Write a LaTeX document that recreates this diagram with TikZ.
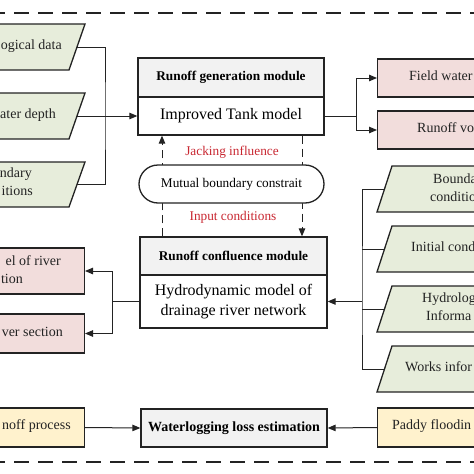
\documentclass[tikz,border=0pt]{standalone}
\usepackage{fontspec}
\setmainfont{Liberation Serif}
\usetikzlibrary{arrows.meta}
\definecolor{greenfill}{RGB}{231,237,219}
\definecolor{redfill}{RGB}{242,221,220}
\definecolor{yelfill}{RGB}{255,242,205}
\definecolor{hdrfill}{RGB}{242,242,242}
\definecolor{redtxt}{RGB}{200,38,48}
\definecolor{ink}{RGB}{35,35,35}
\tikzset{
  boxline/.style={draw=ink, line width=1.3pt},
  hdrbox/.style={boxline, fill=hdrfill, inner sep=0pt, font=\fontsize{13.3}{16}\selectfont\bfseries},
  bodybox/.style={boxline, fill=white, inner sep=0pt, align=center, font=\fontsize{16}{20}\selectfont},
  redbox/.style={boxline, fill=redfill, inner sep=0pt},
  yelbox/.style={boxline, fill=yelfill, inner sep=0pt},
  greenpoly/.style={boxline, fill=greenfill},
  pill/.style={boxline, fill=white, rounded corners=19pt, inner sep=0pt, font=\fontsize{13.3}{16}\selectfont},
  frag/.style={inner sep=0pt, font=\fontsize{14}{18}\selectfont, text=ink},
  redlbl/.style={inner sep=0pt, text=redtxt, font=\fontsize{13.3}{16}\selectfont},
  conn/.style={draw=ink, line width=1pt},
  arr/.style={conn, -{Triangle[length=8pt,width=6.5pt]}},
  darr/.style={arr, dash pattern=on 8pt off 5pt},
  frameline/.style={draw=ink, line width=2.2pt, dash pattern=on 15pt off 9pt, dash phase=10pt}
}
\begin{document}
\begin{tikzpicture}[x=1pt,y=-1pt]
\useasboundingbox (0,0) rectangle (474,474);
\clip (0,0) rectangle (474,474);

% frame
\coordinate (fa) at (0,13); \coordinate (fb) at (474,13);
\coordinate (fc) at (0,462); \coordinate (fd) at (474,462);
\draw[frameline] (fa) -- (fb);
\draw[frameline] (fc) -- (fd);

% left green inputs
\draw[greenpoly] (-40,24) -- (85,24) -- (69,70) -- (-56,70) -- cycle;
\draw[greenpoly] (-40,93) -- (85,93) -- (69,139) -- (-56,139) -- cycle;
\draw[greenpoly] (-40,162) -- (85,162) -- (69,207) -- (-56,207) -- cycle;
\coordinate (gL1) at (77,47);
\coordinate (gL2) at (77,116);
\coordinate (gL3) at (77,184.5);
\node[frag, anchor=mid east] (tL1) at (62,47) {ogical data};
\node[frag, anchor=mid east] (tL2) at (56,116) {ater depth};
\node[frag, anchor=mid east] (tL3a) at (32,175) {ndary};
\node[frag, anchor=mid east] (tL3b) at (33,193) {itions};

% top module
\node[hdrbox, minimum width=186pt, minimum height=39pt] (thdr) at (231,77.5) {Runoff generation module};
\node[bodybox, minimum width=186pt, minimum height=38pt] (tbody) at (231,116) {Improved Tank model};

% right red outputs
\node[redbox, minimum width=140pt, minimum height=38pt, anchor=west] (rr1) at (377,78) {};
\node[redbox, minimum width=140pt, minimum height=38pt, anchor=west] (rr2) at (377,130) {};
\node[frag, anchor=mid west] (tR1) at (409,78) {Field water};
\node[frag, anchor=mid west] (tR2) at (417,130) {Runoff vo};

% dashed links and pill
\coordinate (up) at (162,0);
\coordinate (dn) at (302,0);
\node[hdrbox, minimum width=187pt, minimum height=38pt] (lhdr) at (233.5,256) {Runoff confluence module};
\node[bodybox, minimum width=187pt, minimum height=53pt] (lbody) at (233.5,301.5) {Hydrodynamic model of\\drainage river network};
\draw[darr] (lhdr.north -| up) -- (tbody.south -| up);
\draw[darr] (tbody.south -| dn) -- (lhdr.north -| dn);
\node[pill, minimum width=185pt, minimum height=38pt] (mbc) at (231.5,184) {Mutual boundary constrait};
\node[redlbl] (jack) at (232,152) {Jacking influence};
\node[redlbl] (inp) at (233,217) {Input conditions};

% right green inputs
\draw[greenpoly] (392,166) -- (520,166) -- (504,212) -- (377,212) -- cycle;
\draw[greenpoly] (392,226) -- (520,226) -- (504,272) -- (377,272) -- cycle;
\draw[greenpoly] (392,286) -- (520,286) -- (504,332) -- (377,332) -- cycle;
\draw[greenpoly] (392,346) -- (520,346) -- (504,392) -- (377,392) -- cycle;
\coordinate (gR1) at (384.5,189);
\coordinate (gR2) at (384.5,249);
\coordinate (gR3) at (384.5,309);
\coordinate (gR4) at (384.5,369);
\node[frag, anchor=mid west] (tG1a) at (433,181) {Bounda};
\node[frag, anchor=mid west] (tG1b) at (430,199) {conditio};
\node[frag, anchor=mid west] (tG2) at (411,249) {Initial cond};
\node[frag, anchor=mid west] (tG3a) at (422,300) {Hydrolog};
\node[frag, anchor=mid west] (tG3b) at (426,318) {Informa};
\node[frag, anchor=mid west] (tG4) at (405,369) {Works infor};

% left red outputs
\node[redbox, minimum width=140pt, minimum height=46pt, anchor=east] (lr1) at (85,271) {};
\node[redbox, minimum width=140pt, minimum height=39pt, anchor=east] (lr2) at (85,333.5) {};
\node[frag, anchor=mid east] (tlr1a) at (61,263) {el of river};
\node[frag, anchor=mid east] (tlr1b) at (23,281) {tion};
\node[frag, anchor=mid east] (tlr2) at (63,334) {ver section};

% bottom row
\node[hdrbox, minimum width=186pt, minimum height=38pt, font=\fontsize{14}{17}\selectfont\bfseries] (wl) at (234,428) {Waterlogging loss estimation};
\node[yelbox, minimum width=140pt, minimum height=39pt, anchor=east] (yl) at (85,427.5) {};
\node[yelbox, minimum width=140pt, minimum height=39pt, anchor=west] (yr) at (377,427.5) {};
\node[frag, anchor=mid east] (tyl) at (71,427) {noff process};
\node[frag, anchor=mid west] (tyr) at (392,427) {Paddy floodin};

% connectors
\coordinate (jl) at (105,116);
\draw[conn] (gL1) -| (jl) |- (gL3);
\draw[arr] (gL2) -- (tbody.west);

\coordinate (jr) at (356,116);
\draw[conn] (tbody.east) -- (jr);
\draw[arr] (jr) |- (rr1.west);
\draw[arr] (jr) |- (rr2.west);

\coordinate (jr2) at (362,301.5);
\draw[conn] (gR1) -| (jr2) |- (gR4);
\draw[conn] (gR2) -- (gR2 -| jr2);
\draw[conn] (gR3) -- (gR3 -| jr2);
\draw[arr] (jr2) -- (lbody.east);

\coordinate (jl2) at (112,301.5);
\draw[conn] (lbody.west) -- (jl2);
\draw[arr] (jl2) |- (lr1.east);
\draw[arr] (jl2) |- (lr2.east);

\draw[arr] (yl.east) -- (wl.west);
\draw[arr] (yr.west) -- (wl.east);
\end{tikzpicture}
\end{document}
